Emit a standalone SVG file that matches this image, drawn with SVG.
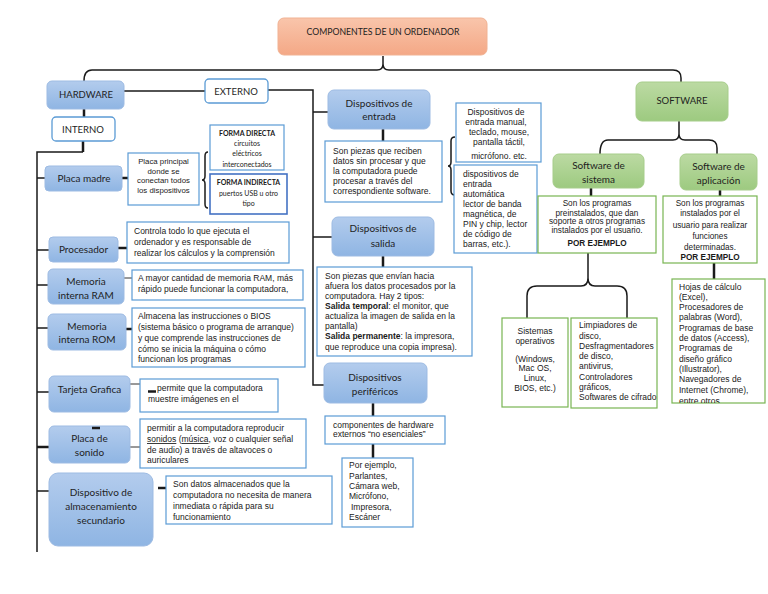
<svg xmlns="http://www.w3.org/2000/svg" width="768" height="594" viewBox="0 0 768 594">
<defs>
<linearGradient id="gBlue" x1="0" y1="0" x2="0" y2="1"><stop offset="0" stop-color="#b3cced"/><stop offset="1" stop-color="#8fb5e3"/></linearGradient>
<linearGradient id="gGreen" x1="0" y1="0" x2="0" y2="1"><stop offset="0" stop-color="#bcdaa3"/><stop offset="1" stop-color="#9dca80"/></linearGradient>
<linearGradient id="gOrange" x1="0" y1="0" x2="0" y2="1"><stop offset="0" stop-color="#f9c5ab"/><stop offset="1" stop-color="#f4a886"/></linearGradient>
<clipPath id="clipHojas"><rect x="672" y="279" width="93" height="124"/></clipPath>
<clipPath id="clipTarj"><rect x="140" y="379" width="138" height="33"/></clipPath>
</defs>
<style>
.nb{fill:url(#gBlue);stroke:#9dbbe3;stroke-width:1}
.ng{fill:url(#gGreen);stroke:#a6cd8a;stroke-width:1}
.no{fill:url(#gOrange);stroke:#f1b293;stroke-width:1}
.nw{fill:#fff;stroke:#5b9bd5;stroke-width:1.3}
.db{fill:#fff;stroke:#5b9bd5;stroke-width:1.2}
.dg{fill:#fff;stroke:#78b552;stroke-width:1.2}
.lbl{font-family:Lato,"Open Sans",sans-serif;font-size:10px;fill:#1e1e1e;text-anchor:middle}
.t{font-family:"Liberation Sans",Arial,sans-serif;font-size:8.5px;fill:#1a1a1a}
.tc{font-family:"Liberation Sans",Arial,sans-serif;font-size:8.5px;fill:#1a1a1a;text-anchor:middle}
.ts{font-family:Lato,"Open Sans",sans-serif;font-size:7px;fill:#1a1a1a;text-anchor:middle}
.c{fill:none;stroke:#1a1a1a;stroke-width:1.5}
.ck{fill:none;stroke:#1a1a1a;stroke-width:2.5}
.c1{fill:none;stroke:#333;stroke-width:1}
</style>
<rect width="768" height="594" fill="#fff"/>

<g id="connectors">
<path class="c" d="M84,81 Q84,70 92,70 L377,70 Q383,70 383,64 L383,56 M383,64 Q383,70 389,70 L673,70 Q681,70 681,78 L681,82"/>
<path class="c" d="M124,91 L205,91"/>
<path class="ck" d="M84,109 L84,117"/>
<path class="ck" d="M83,141 L83,152"/>
<path class="c" d="M83,152 L37,152 L37,552"/>
<path class="c" d="M37,178 L45,178 M37,250 L49,250 M37,285 L48,285 M37,328 L48,328 M37,392 L49,392 M37,491 L49,491"/>
<path class="ck" d="M37,447 L49,447"/>
<path class="ck" d="M122,178 L128,178"/>
<path class="ck" d="M118,248 L127,248"/>
<path class="c1" d="M124,278 L133,278"/>
<path class="ck" d="M126,329 L133,329"/>
<path class="c1" d="M130,384 L140,384"/>
<path class="c1" d="M130,447 L140,447"/>
<path class="ck" d="M158,488 L166,488"/>
<path class="c" d="M208,152 Q205,152 205,156 L205,176 Q205,180 202,180 Q205,180 205,184 L205,204 Q205,208 208,208"/>
<path class="c" d="M268,90 L313,90 L313,385 L324,385 M313,112 L328,112 M313,237 L332,237"/>
<path class="ck" d="M383,129 L383,141"/>
<path class="ck" d="M383,256 L383,267"/>
<path class="ck" d="M373,403 L373,416"/>
<path class="ck" d="M373,444 L373,458"/>
<path class="c" d="M455,137 Q451,137 451,141 L451,162 Q451,166 448,166 Q451,166 451,170 L451,191 Q451,195 455,195"/>
<path class="c" d="M600,154 Q600,140 608,140 L673,140 Q679,140 679,134 L679,121 M679,134 Q679,140 685,140 L709,140 Q717,140 717,148 L717,154"/>
<path class="ck" d="M591,188 L591,196"/>
<path class="ck" d="M720,190 L720,196"/>
<path class="c" d="M527,318 L527,296 Q527,286 537,286 L581,286 Q588,286 588,278 L588,253 M588,278 Q588,286 595,286 L617,286 Q627,286 627,296 L627,318"/>
<path class="ck" d="M714,263 L714,279"/>
</g>

<g id="title"><rect class="no" x="278" y="18" width="209" height="37" rx="6"/><text class="lbl" x="383" y="35" style="font-size:8.7px">COMPONENTES DE UN ORDENADOR</text></g>

<g id="hardware"><rect class="nb" x="47" y="81" width="77" height="28" rx="5"/><text class="lbl" x="86" y="98" style="font-size:9.5px">HARDWARE</text></g>
<g id="externo"><rect class="nw" x="205" y="79" width="63" height="24" rx="4"/><text class="lbl" x="236" y="94.5" style="font-size:9.5px">EXTERNO</text></g>
<g id="interno"><rect class="nw" x="52" y="117" width="63" height="24" rx="4"/><text class="lbl" x="83" y="132.5" style="font-size:9.5px">INTERNO</text></g>

<g id="placa-madre"><rect class="nb" x="45" y="166" width="77" height="25" rx="4"/><text class="lbl" x="84" y="181.5">Placa madre</text></g>
<g id="placa-madre-desc"><rect class="db" x="128" y="153" width="71" height="52"/>
<text class="tc" style="font-size:7.8px"><tspan x="163.5" y="164">Placa principal</tspan><tspan x="163.5" y="174">donde se</tspan><tspan x="163.5" y="183">conectan todos</tspan><tspan x="163.5" y="193">los dispositivos</tspan></text></g>
<g id="forma-directa"><rect class="db" x="210" y="125" width="74" height="45"/>
<text class="ts"><tspan x="247" y="135.5" font-weight="bold">FORMA DIRECTA</tspan><tspan x="247" y="145.5">circuitos</tspan><tspan x="247" y="155.5">eléctricos</tspan><tspan x="247" y="166.5">interconectados</tspan></text></g>
<g id="forma-indirecta"><rect class="db" x="210" y="174" width="77" height="40" style="stroke:#4472c4;stroke-width:1.6"/>
<text class="ts"><tspan x="248.5" y="184.5" font-weight="bold">FORMA INDIRECTA</tspan><tspan x="248.5" y="195.5">puertos USB u otro</tspan><tspan x="248.5" y="205.5">tipo</tspan></text></g>

<g id="procesador"><rect class="nb" x="49" y="237" width="69" height="25" rx="4"/><text class="lbl" x="83.5" y="253">Procesador</text></g>
<g id="procesador-desc"><rect class="db" x="127" y="222" width="162" height="41"/>
<text class="t"><tspan x="134" y="233.5">Controla todo lo que ejecuta el</tspan><tspan x="134" y="245">ordenador y es responsable de</tspan><tspan x="134" y="255.5">realizar los cálculos y la comprensión</tspan></text></g>

<g id="ram"><rect class="nb" x="48" y="269" width="76" height="35" rx="5"/><text class="lbl"><tspan x="86" y="284.5">Memoria</tspan><tspan x="86" y="298.5">interna RAM</tspan></text></g>
<g id="ram-desc"><rect class="db" x="132" y="270" width="171" height="30"/>
<text class="t"><tspan x="138" y="281">A mayor cantidad de memoria RAM, más</tspan><tspan x="138" y="292">rápido puede funcionar la computadora,</tspan></text></g>

<g id="rom"><rect class="nb" x="48" y="314" width="78" height="36" rx="5"/><text class="lbl"><tspan x="87" y="329.5">Memoria</tspan><tspan x="87" y="342.5">interna ROM</tspan></text></g>
<g id="rom-desc"><rect class="db" x="132" y="308" width="173" height="59"/>
<text class="t"><tspan x="138" y="319">Almacena las instrucciones o BIOS</tspan><tspan x="138" y="330">(sistema básico o programa de arranque)</tspan><tspan x="138" y="341">y que comprende las instrucciones de</tspan><tspan x="138" y="351.5">cómo se inicia la máquina o cómo</tspan><tspan x="138" y="362">funcionan los programas</tspan></text></g>

<g id="tarjeta"><rect class="nb" x="49" y="376" width="81" height="36" rx="5"/><text class="lbl" x="89.5" y="392.5">Tarjeta Grafica</text></g>
<g id="tarjeta-desc"><rect class="db" x="140" y="379" width="138" height="33"/>
<path class="ck" d="M148,391.5 L156,391.5"/>
<g clip-path="url(#clipTarj)"><text class="t"><tspan x="157" y="391">permite que la computadora</tspan><tspan x="148" y="402">muestre imágenes en el</tspan></text></g></g>

<g id="placa-sonido"><rect class="nb" x="49" y="426" width="81" height="37" rx="5"/>
<path class="ck" d="M92,428 L100,428"/>
<text class="lbl"><tspan x="89.5" y="441.5">Placa de</tspan><tspan x="89.5" y="455.5">sonido</tspan></text></g>
<g id="placa-sonido-desc"><rect class="db" x="140" y="419" width="166" height="49"/>
<text class="t"><tspan x="147" y="431">permitir a la computadora reproducir</tspan><tspan x="147" y="442"><tspan text-decoration="underline">sonidos</tspan> (<tspan text-decoration="underline">música</tspan>, voz o cualquier señal</tspan><tspan x="147" y="453">de audio) a través de altavoces o</tspan><tspan x="147" y="463">auriculares</tspan></text></g>

<g id="almacenamiento"><rect class="nb" x="49" y="473" width="104" height="73" rx="9"/><text class="lbl"><tspan x="101" y="495.5">Dispositivo de</tspan><tspan x="101" y="509.5">almacenamiento</tspan><tspan x="101" y="523.5">secundario</tspan></text></g>
<g id="almacenamiento-desc"><rect class="db" x="166" y="476" width="166" height="48"/>
<text class="t"><tspan x="173" y="487">Son datos almacenados que la</tspan><tspan x="173" y="498">computadora no necesita de manera</tspan><tspan x="173" y="509">inmediata o rápida para su</tspan><tspan x="173" y="520">funcionamiento</tspan></text></g>

<g id="entrada"><rect class="nb" x="328" y="90" width="102" height="39" rx="6"/><text class="lbl"><tspan x="379" y="106.5">Dispositivos de</tspan><tspan x="379" y="119.5">entrada</tspan></text></g>
<g id="entrada-desc"><rect class="db" x="325" y="141" width="117" height="61"/>
<text class="t"><tspan x="333" y="154">Son piezas que reciben</tspan><tspan x="333" y="164">datos sin procesar y que</tspan><tspan x="333" y="174">la computadora puede</tspan><tspan x="333" y="184">procesar a través del</tspan><tspan x="333" y="194">correspondiente software.</tspan></text></g>
<g id="entrada-manual"><rect class="db" x="456" y="103" width="85" height="59"/>
<text class="tc"><tspan x="496" y="115">Dispositivos de</tspan><tspan x="496" y="125">entrada manual,</tspan><tspan x="499" y="135">teclado, mouse,</tspan><tspan x="499" y="145">pantalla táctil,</tspan><tspan x="499" y="159">micrófono. etc.</tspan></text></g>
<g id="entrada-auto"><rect class="db" x="454" y="165" width="83" height="88"/>
<text class="t"><tspan x="463" y="177">dispositivos de</tspan><tspan x="463" y="186.5">entrada</tspan><tspan x="463" y="196.5">automática</tspan><tspan x="463" y="206.5">lector de banda</tspan><tspan x="463" y="216.5">magnética, de</tspan><tspan x="463" y="226.5">PIN y chip, lector</tspan><tspan x="463" y="237">de código de</tspan><tspan x="463" y="247">barras, etc.).</tspan></text></g>

<g id="salida"><rect class="nb" x="332" y="217" width="102" height="39" rx="6"/><text class="lbl"><tspan x="383" y="231.5">Dispositivos de</tspan><tspan x="383" y="246.5">salida</tspan></text></g>
<g id="salida-desc"><rect class="db" x="317" y="267" width="155" height="89"/>
<text class="t"><tspan x="325" y="279">Son piezas que envían hacia</tspan><tspan x="325" y="289">afuera los datos procesados por la</tspan><tspan x="325" y="299">computadora. Hay 2 tipos:</tspan><tspan x="325" y="309"><tspan font-weight="bold">Salida temporal</tspan>: el monitor, que</tspan><tspan x="325" y="319">actualiza la imagen de salida en la</tspan><tspan x="325" y="329">pantalla)</tspan><tspan x="325" y="339"><tspan font-weight="bold">Salida permanente</tspan>: la impresora,</tspan><tspan x="325" y="350">que reproduce una copia impresa).</tspan></text></g>

<g id="perifericos"><rect class="nb" x="324" y="363" width="103" height="40" rx="6"/><text class="lbl"><tspan x="375" y="380.5">Dispositivos</tspan><tspan x="375" y="394.5">periféricos</tspan></text></g>
<g id="perifericos-desc"><rect class="db" x="325" y="416" width="120" height="28"/>
<text class="t"><tspan x="333" y="428">componentes de hardware</tspan><tspan x="333" y="437">externos “no esenciales”</tspan></text></g>
<g id="perifericos-ej"><rect class="db" x="342" y="458" width="71" height="69"/>
<text class="t"><tspan x="349" y="468">Por ejemplo,</tspan><tspan x="349" y="479">Parlantes,</tspan><tspan x="349" y="489">Cámara web,</tspan><tspan x="349" y="499">Micrófono,</tspan><tspan x="351" y="510">Impresora,</tspan><tspan x="349" y="520">Escáner</tspan></text></g>

<g id="software"><rect class="ng" x="636" y="82" width="92" height="39" rx="6"/><text class="lbl" x="682" y="104" style="font-size:9.5px">SOFTWARE</text></g>
<g id="sw-sistema"><rect class="ng" x="553" y="154" width="91" height="34" rx="6"/><text class="lbl"><tspan x="598.5" y="168.5">Software de</tspan><tspan x="598.5" y="182.5">sistema</tspan></text></g>
<g id="sw-aplicacion"><rect class="ng" x="680" y="154" width="77" height="36" rx="6"/><text class="lbl"><tspan x="718.5" y="169.5">Software de</tspan><tspan x="718.5" y="183.5">aplicación</tspan></text></g>
<g id="sw-sistema-desc"><rect class="dg" x="538" y="196" width="118" height="57"/>
<text class="tc" style="font-size:8.2px"><tspan x="597" y="206">Son los programas</tspan><tspan x="597" y="215.5">preinstalados, que dan</tspan><tspan x="597" y="224">soporte a otros programas</tspan><tspan x="597" y="232.5">instalados por el usuario.</tspan><tspan x="597" y="246" font-weight="bold">POR EJEMPLO</tspan></text></g>
<g id="sw-aplicacion-desc"><rect class="dg" x="663" y="196" width="94" height="67"/>
<text class="tc" style="font-size:8.2px"><tspan x="710" y="206">Son los programas</tspan><tspan x="710" y="216">instalados por el</tspan><tspan x="710" y="228">usuario para realizar</tspan><tspan x="710" y="239">funciones</tspan><tspan x="710" y="250">determinadas.</tspan><tspan x="710" y="260" font-weight="bold">POR EJEMPLO</tspan></text></g>
<g id="sistemas-operativos"><rect class="dg" x="502" y="318" width="66" height="89"/>
<text class="tc"><tspan x="535" y="333.5">Sistemas</tspan><tspan x="535" y="343.5">operativos</tspan><tspan x="535" y="362">(Windows,</tspan><tspan x="535" y="371">Mac OS,</tspan><tspan x="535" y="381">Linux,</tspan><tspan x="535" y="391">BIOS, etc.)</tspan></text></g>
<g id="utilidades"><rect class="dg" x="571" y="318" width="86" height="90"/>
<text class="t"><tspan x="579" y="328">Limpiadores de</tspan><tspan x="579" y="339">disco,</tspan><tspan x="579" y="349">Desfragmentadores</tspan><tspan x="579" y="359">de disco,</tspan><tspan x="579" y="369">antivirus,</tspan><tspan x="579" y="380">Controladores</tspan><tspan x="579" y="390">gráficos,</tspan><tspan x="579" y="400">Softwares de cifrado</tspan></text></g>
<g id="aplicaciones-ej"><rect class="dg" x="672" y="279" width="93" height="124"/>
<g clip-path="url(#clipHojas)"><text class="t"><tspan x="679" y="289.5">Hojas de cálculo</tspan><tspan x="679" y="299.8">(Excel),</tspan><tspan x="679" y="310.1">Procesadores de</tspan><tspan x="679" y="320.4">palabras (Word),</tspan><tspan x="679" y="330.7">Programas de base</tspan><tspan x="679" y="341">de datos (Access),</tspan><tspan x="679" y="351.3">Programas de</tspan><tspan x="679" y="361.6">diseño gráfico</tspan><tspan x="679" y="371.9">(Illustrator),</tspan><tspan x="679" y="382.2">Navegadores de</tspan><tspan x="679" y="392.5">Internet (Chrome),</tspan><tspan x="679" y="403.8">entre otros.</tspan></text></g></g>
</svg>
